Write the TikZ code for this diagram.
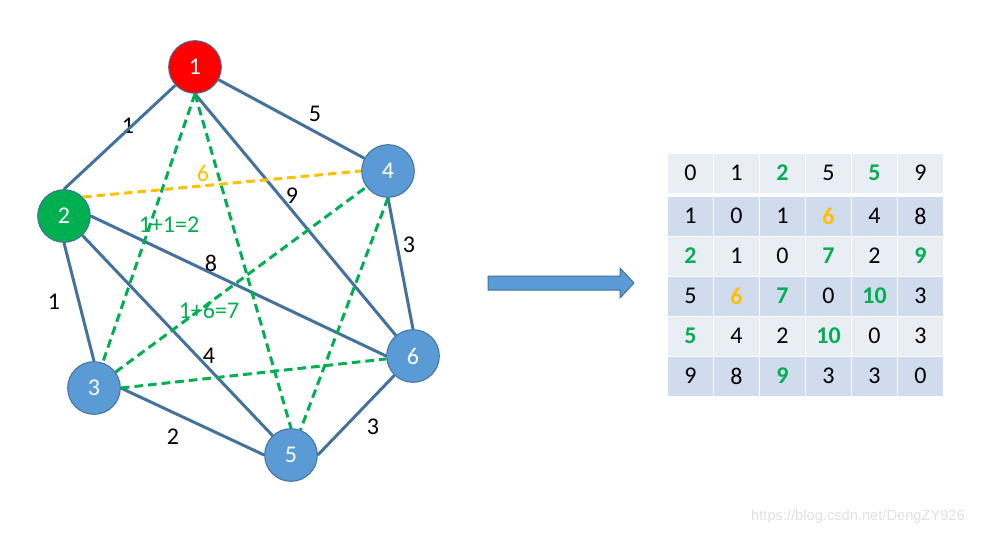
\documentclass[tikz,border=0pt]{standalone}
\usepackage{fontspec}
\setmainfont{Carlito}
\newfontfamily\markfont{Liberation Sans}
\usetikzlibrary{matrix}

\definecolor{edgeblue}{RGB}{68,114,158}
\definecolor{nodeblue}{RGB}{91,155,213}
\definecolor{nodeline}{RGB}{65,113,156}
\definecolor{pathgreen}{RGB}{0,176,80}
\definecolor{pathorange}{RGB}{255,192,0}
\definecolor{rowlight}{RGB}{233,237,244}
\definecolor{rowdark}{RGB}{208,219,238}

\newcommand\cellfont{\fontsize{18}{21}\selectfont}

\tikzset{
  vertex/.style={circle, draw=nodeline, line width=0.75pt, minimum size=39.5pt, inner sep=0pt, text=white},
  edge/.style={edgeblue, line width=2.25pt},
  relax/.style={pathgreen, line width=2.25pt, dash pattern=on 6.5pt off 3.75pt},
  weight/.style={inner sep=1pt},
  newg/.style={text=pathgreen, font=\cellfont\bfseries},
  newo/.style={text=pathorange, font=\cellfont\bfseries},
}

\begin{document}
\begin{tikzpicture}[x=0.75pt,y=-0.75pt,font=\cellfont]
    \useasboundingbox (0,0) rectangle (983,536);
    \node[vertex,fill=red] (V1) at (195,67) {1};
    \node[vertex,fill=pathgreen] (V2) at (64,216) {2};
    \node[vertex,fill=nodeblue] (V3) at (94,388) {3};
    \node[vertex,fill=nodeblue] (V4) at (388,171) {4};
    \node[vertex,fill=nodeblue] (V5) at (291,455) {5};
    \node[vertex,fill=nodeblue] (V6) at (413,356) {6};
    % weights
    \node[weight] (w12) at (128,126) {1};
    \node[weight] (w14) at (315,114) {5};
    \node[weight] (w16) at (292,196) {9};
    \node[weight] (w26) at (211,263) {8};
    \node[weight] (w46) at (409,245) {3};
    \node[weight] (w23) at (54,302) {1};
    \node[weight] (w25) at (209,356) {4};
    \node[weight] (w35) at (173,437) {2};
    \node[weight] (w56) at (373,427) {3};
    \node[weight,text=pathorange] (s24) at (203,173) {6};
    \node[weight,text=pathgreen] (s13) at (169,225) {1+1=2};
    \node[weight,text=pathgreen] (s34) at (209,310) {1+6=7};
    % original edges
    \draw [edge] (V1) -- (V2.north);
    \draw [edge] (V1) -- (V4);
    \draw [edge] (V1.south) -- (V6);
    \draw [edge] (V2.south) -- (V3.north);
    \draw [edge] (V2) -- (V5);
    \draw [edge] (V2.east) -- (V6.west);
    \draw [edge] (V3.east) -- (V5.west);
    \draw [edge] (V4.south) -- (V6.north);
    \draw [edge] (V5.east) -- (V6);
    % shortest paths found
    \draw [relax,pathorange] (V2.north east) -- (V4.west);
    \draw [relax] (V1.south) -- (V3);
    \draw [relax] (V1.south) -- (V5.north);
    \draw [relax] (V3) -- (V4);
    \draw [relax] (V4.south) -- (V5);
    \draw [relax] (V3.east) -- (V6);
    % big arrow
    \draw [nodeline,fill=nodeblue,line width=0.75pt] (488,276) -- (620,276) -- (620,268) -- (634,283) -- (620,298) -- (620,290) -- (488,290) -- cycle;
    % distance table
    \matrix (dist) [matrix of nodes,
        nodes={minimum width=33.75pt, minimum height=29.25pt, inner sep=0pt, anchor=center},
        column sep=0.75pt, row sep=0.75pt, inner sep=0pt,
        row 1/.style={nodes={fill=rowlight}},
        row 2/.style={nodes={fill=rowdark}},
        row 3/.style={nodes={fill=rowlight}},
        row 4/.style={nodes={fill=rowdark}},
        row 5/.style={nodes={fill=rowlight}},
        row 6/.style={nodes={fill=rowdark}}]
        at (805.5,274.5) {
0 & 1 & |[newg]| 2 & 5 & |[newg]| 5 & 9 \\[2.25pt]
1 & 0 & 1 & |[newo]| 6 & 4 & 8 \\
|[newg]| 2 & 1 & 0 & |[newg]| 7 & 2 & |[newg]| 9 \\
5 & |[newo]| 6 & |[newg]| 7 & 0 & |[newg]| 10 & 3 \\
|[newg]| 5 & 4 & 2 & |[newg]| 10 & 0 & 3 \\
9 & 8 & |[newg]| 9 & 3 & 3 & 0 \\
};
    \node[font=\markfont\fontsize{11}{13}\selectfont, text=black!12] (mark) at (858,517) {https://blog.csdn.net/DengZY926};
\end{tikzpicture}
\end{document}
